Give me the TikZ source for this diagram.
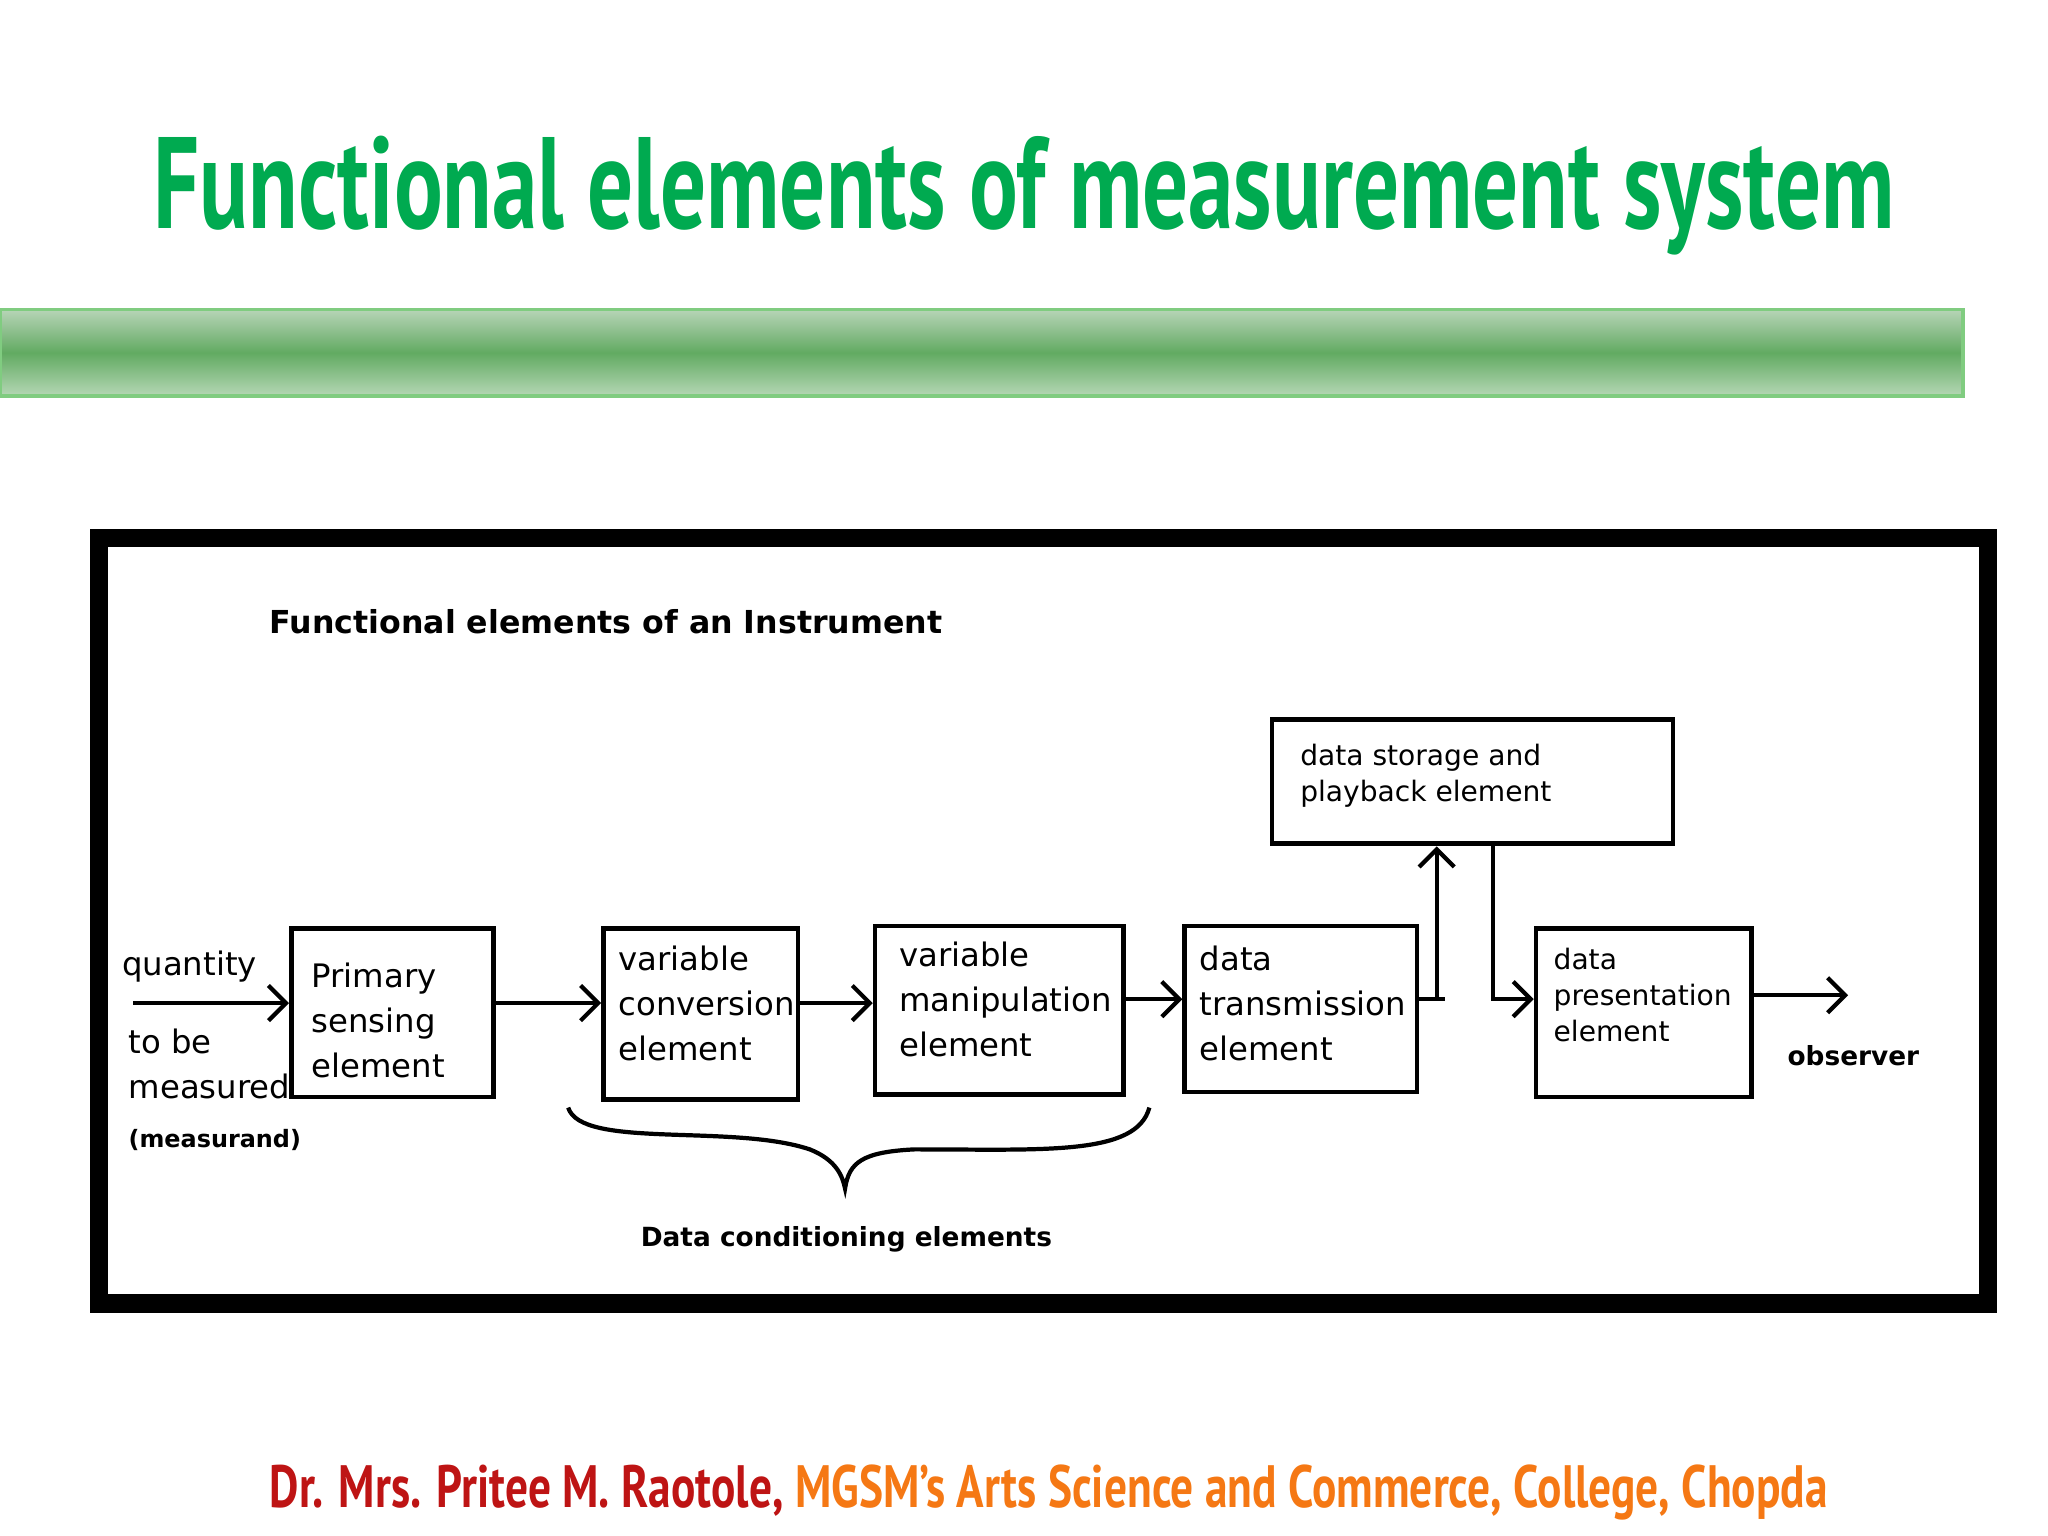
\documentclass[tikz,border=0pt]{standalone}
\usepackage{fontspec}
\setmainfont{DejaVu Sans}
\newfontfamily\titlef{PT Sans}
\usetikzlibrary{arrows.meta,shadings}
\definecolor{tgreen}{RGB}{0,170,80}
\definecolor{dred}{RGB}{190,20,20}
\definecolor{orng}{RGB}{245,120,20}
\tikzset{blk/.style={draw,line width=1.3pt},
 arr/.style={line width=1.2pt,-{Straight Barb[length=5pt,width=10pt]}},
 ln/.style={line width=1.2pt},
 lbl/.style={anchor=west,font=\fontsize{9.2}{12.8}\selectfont,align=left},
 slbl/.style={anchor=west,font=\fontsize{8}{10.3}\selectfont,align=left},
 blbl/.style={anchor=center,font=\bfseries\fontsize{7.5}{9}\selectfont}}
\begin{document}
\begin{tikzpicture}[x=0.01306cm,y=-0.01306cm]
\useasboundingbox (0,0) rectangle (1568,1176);
\node (title) at (784,150) [text=tgreen,font=\titlef\bfseries\fontsize{37}{44}\selectfont,xscale=0.70] {Functional elements of measurement system};
\shade[top color=green!25!gray!45,bottom color=green!30!gray!45,middle color=green!30!gray!95] (0,237) rectangle (1503,303);
\draw[green!60!black!50,line width=1pt] (0,237) rectangle (1503,303);
\draw[line width=0.183cm] (76,412) rectangle (1522,998);
\node (sub) at (197,476) [anchor=west,font=\bfseries\fontsize{9}{11}\selectfont] {Functional elements of an Instrument};
\node[blk,minimum width=155*0.01306cm,minimum height=129*0.01306cm] (ps) at (300.5,775.5) {};
\node[lbl] at (229,781) {Primary\\sensing\\element};
\node[blk,minimum width=149*0.01306cm,minimum height=131*0.01306cm] (vc) at (536.5,776.5) {};
\node[lbl] at (464,768) {variable\\conversion\\element};
\node[blk,minimum width=190*0.01306cm,minimum height=129*0.01306cm] (vm) at (765,773.5) {};
\node[lbl] at (679,765) {variable\\manipulation\\element};
\node[blk,minimum width=178*0.01306cm,minimum height=127*0.01306cm] (dt) at (996,772.5) {};
\node[lbl] at (909,768) {data\\transmission\\element};
\node[blk,minimum width=307*0.01306cm,minimum height=95*0.01306cm] (ds) at (1127.5,598.5) {};
\node[slbl] at (986,594) {data storage and\\playback element};
\node[blk,minimum width=165*0.01306cm,minimum height=129*0.01306cm] (dp) at (1258.5,775.5) {};
\node[slbl] at (1180,762) {data\\presentation\\element};
\node[lbl] (q) at (84,740) {quantity};
\node[lbl] at (89,797) {to be};
\node[lbl] at (89,832) {measured};
\node[anchor=west,font=\bfseries\fontsize{6.8}{8}\selectfont] at (89,873) {(measurand)};
\node[blbl] (obs) at (1419,808) {observer};
\coordinate (in) at (102,768);
\coordinate (out) at (1415,762);
\draw[arr] (in) -- (ps.west|-in);
\draw[arr] (ps.east|-in) -- (vc.west|-in);
\draw[arr] (vc.east|-in) -- (vm.west|-in);
\draw[arr] (vm.east|-0,765) -- (dt.west|-0,765);
\draw[ln] (dt.east|-0,765) -- (1106,765);
\draw[arr] (1100,765) -- (1100,648);
\draw[arr] (1143,646) -- (1143,765) -- (dp.west|-0,765);
\draw[arr] (dp.east|-out) -- (out);
\draw[ln] (435,848) .. controls (445,880) and (560,860) .. (620,880) .. controls (640,888) and (645,900) .. (647,910) .. controls (650,890) and (660,882) .. (700,880) .. controls (800,880) and (870,885) .. (880,848);
\node[blbl] (dc) at (648,949) {Data conditioning elements};
\node (foot) at (803,1143) [font=\titlef\bfseries\fontsize{17}{20}\selectfont,xscale=0.76] {\textcolor{dred}{Dr. Mrs. Pritee M. Raotole,} \textcolor{orng}{MGSM’s Arts Science and Commerce, College, Chopda}};
\end{tikzpicture}
\end{document}
